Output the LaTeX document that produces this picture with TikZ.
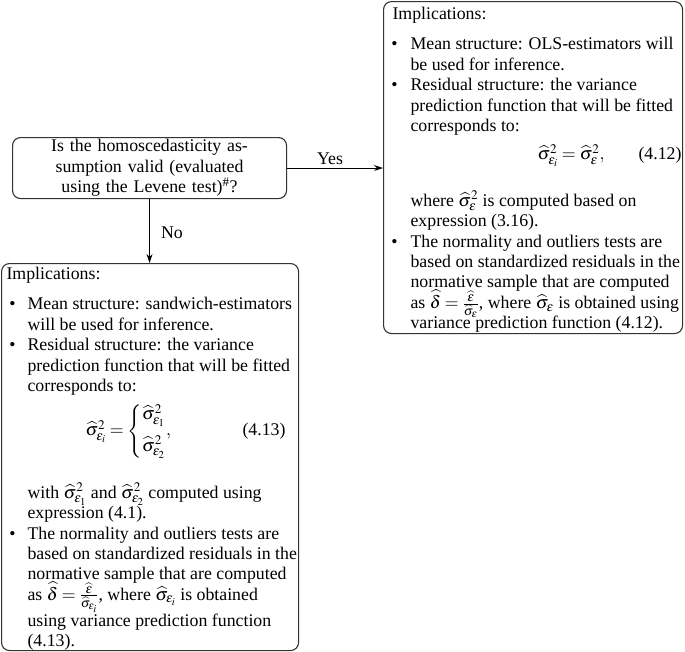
\documentclass[tikz,border=0pt]{standalone}
\usepackage{amsmath}
\usepackage{mathptmx}
\usepackage{fontspec}
\setmainfont{Liberation Serif}
\usepackage{enumitem}
\usetikzlibrary{arrows.meta}
\makeatletter
\newcommand\boxsetup[1]{\raggedright\leftskip=#1\relax\@rightskip=-30pt plus 1fil\relax\rightskip=\@rightskip\lineskiplimit=-2pt\relax}
\makeatother
\setlist[itemize]{labelwidth=6pt, topsep=10pt, partopsep=0pt, itemsep=0pt, parsep=0pt, label=\textbullet}
\begin{document}
\begin{tikzpicture}[x=1pt,y=-1pt,
  box/.style={draw=black!80, line width=1.1pt, rounded corners=8pt},
  txt/.style={font=\fontsize{17.8}{20.4}\selectfont},
  conn/.style={draw=black, line width=1pt, -{Stealth[length=9pt,width=6pt]}},
  lab/.style={txt, inner sep=0pt}]
\useasboundingbox (0,0) rectangle (685,651);

\node[box, txt, anchor=north west, minimum width=274pt, minimum height=61pt,
      text width=262pt, align=center, inner sep=0pt] (q) at (12,137)
  {Is the homoscedasticity as-\\ sumption valid (evaluated\\ using the Levene test)\textsuperscript{\#}?};

\node[box, txt, anchor=north west, inner sep=0pt] (r) at (383,1)
  {\parbox[c][332pt][t]{299pt}{\boxsetup{9pt}\rule{0pt}{18pt}Implications:
   \begin{itemize}[leftmargin=27pt, labelsep=13pt]
   \item Mean structure: OLS-estimators will\\ be used for inference.
   \item Residual structure: the variance\\ prediction function that will be fitted\\ corresponds to:\\[8pt]
     \hspace*{127pt}\makebox[101pt][l]{$\widehat{\sigma}^2_{\varepsilon_i}=\widehat{\sigma}^2_{\varepsilon},$}(4.12)\\[26pt]
     where $\widehat{\sigma}^2_{\varepsilon}$ is computed based on\\ expression (3.16).
   \item The normality and outliers tests are\\ based on standardized residuals in the\\ normative sample that are computed\\ as $\widehat{\delta}=\frac{\widehat{\varepsilon}}{\widehat{\sigma}_{\varepsilon}}$, where $\widehat{\sigma}_{\varepsilon}$ is obtained using\\ variance prediction function (4.12).
   \end{itemize}}};

\node[box, txt, anchor=north west, inner sep=0pt] (l) at (1,263)
  {\parbox[c][387pt][t]{297pt}{\boxsetup{5pt}\rule{0pt}{16pt}Implications:
   \begin{itemize}[leftmargin=26pt, labelsep=12pt]
   \item Mean structure: sandwich-estimators\\ will be used for inference.
   \item Residual structure: the variance\\ prediction function that will be fitted\\ corresponds to:\\[8pt]
     \hspace*{58pt}\makebox[157pt][l]{$\widehat{\sigma}^2_{\varepsilon_i}=\left\{\begin{array}{@{}l@{}}\widehat{\sigma}^2_{\varepsilon_1}\\[10pt] \widehat{\sigma}^2_{\varepsilon_2}\end{array}\right.\!,$}(4.13)\\[24pt]
     with $\widehat{\sigma}^2_{\varepsilon_1}$ and $\widehat{\sigma}^2_{\varepsilon_2}$ computed using\\ expression (4.1).
   \item The normality and outliers tests are\\ based on standardized residuals in the\\ normative sample that are computed\\ as $\widehat{\delta}=\frac{\widehat{\varepsilon}}{\widehat{\sigma}_{\varepsilon_i}}$, where $\widehat{\sigma}_{\varepsilon_i}$ is obtained\\ using variance prediction function\\ (4.13).
   \end{itemize}}};

\draw[conn] (q.east) -- (q.east -| r.west);
\draw[conn] (q.south) -- (q.south |- l.north);
\node[lab] (yes) at (330,159) {Yes};
\node[lab] (no) at (172,233) {No};
\end{tikzpicture}
\end{document}
